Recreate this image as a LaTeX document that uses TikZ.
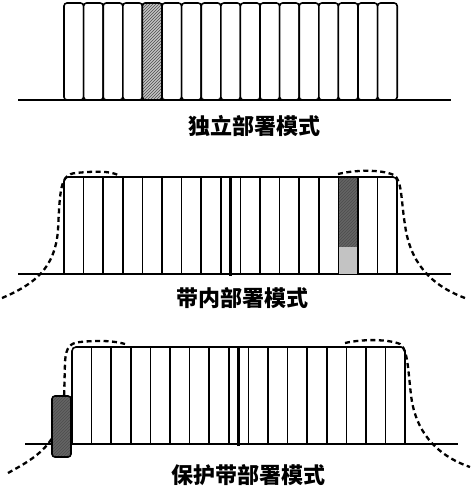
\documentclass[tikz,border=0pt]{standalone}
\usepackage{fontspec}
\usepackage{tikz}
\usetikzlibrary{patterns}
\newfontfamily\cjk{Noto Sans CJK SC}
\definecolor{nbdark}{RGB}{100,100,100}
\definecolor{nblight}{RGB}{195,195,195}
\tikzset{
  chan/.style={draw=black, line width=1.6pt},
  envelope/.style={line width=2.3pt, dash pattern=on 5pt off 3.5pt},
  caption/.style={font=\cjk\bfseries\fontsize{22}{22}\selectfont},
  hatch/.style={pattern=north east lines, pattern color=black!70}
}
\begin{document}
\begin{tikzpicture}[x=1pt,y=-1pt]
\useasboundingbox (0,0) rectangle (474,490);

% Standalone
\draw[line width=1.6pt] (18,100) -- (451,100);
\foreach \i in {0,...,16} {
  \draw[chan, fill=white, rounded corners=3pt] ({64+19.6*\i},100) rectangle ({64+19.6*(\i+1)},3);
}
\fill[nblight] (142.8,4) rectangle (161.8,99);
\fill[hatch] (142.8,4) rectangle (161.8,99);
\draw[chan, rounded corners=3pt] (142.4,100) rectangle (162,3);
\node[caption] (standalone) at (254,126) {独立部署模式};

% In-band
\draw[envelope] (2,298) .. controls (35,284) and (55,268) .. (58,230)
  .. controls (60,190) and (60,174) .. (76,173)
  .. controls (95,171) and (110,171) .. (118,175);
\draw[envelope] (338,174) .. controls (355,170) and (380,169) .. (394,175)
  .. controls (402,180) and (401,200) .. (405,225)
  .. controls (410,262) and (430,285) .. (465,298);
\draw[line width=1.6pt] (18,274) -- (451,274);
\fill[nbdark] (338.4,177) rectangle (358,247);
\fill[hatch] (338.4,177) rectangle (358,247);
\fill[nblight] (338.4,247) rectangle (358,274);
\draw[chan, rounded corners=4pt] (64,274) -- (64,177) -- (397,177) -- (397,274);
\foreach \i in {1,...,16} {
  \draw[chan] ({64+19.6*\i},177) -- ({64+19.6*\i},274);
}
\draw[line width=3pt] (230.6,177) -- (230.6,276);
\node[caption] (inband) at (242,298) {带内部署模式};

% Guard-band
\draw[envelope] (8,473) .. controls (35,458) and (60,445) .. (64,400)
  -- (65,362) .. controls (66,347) and (70,343) .. (80,342)
  .. controls (100,340) and (115,341) .. (125,344);
\draw[envelope] (345,343) .. controls (362,339) and (388,339) .. (400,344)
  .. controls (408,350) and (408,370) .. (411,395)
  .. controls (415,430) and (435,455) .. (470,467);
\draw[line width=1.6pt] (25,444) -- (458,444);
\draw[chan, rounded corners=4pt] (72,444) -- (72,347) -- (405,347) -- (405,444);
\foreach \i in {1,...,16} {
  \draw[chan] ({72+19.6*\i},347) -- ({72+19.6*\i},444);
}
\draw[line width=3pt] (238.6,347) -- (238.6,446);
\fill[nbdark, rounded corners=3pt] (52,396) rectangle (71,457);
\fill[hatch, rounded corners=3pt] (52,396) rectangle (71,457);
\draw[chan, rounded corners=3pt] (52,396) rectangle (71,457);
\node[caption] (guardband) at (248,475) {保护带部署模式};
\end{tikzpicture}
\end{document}
